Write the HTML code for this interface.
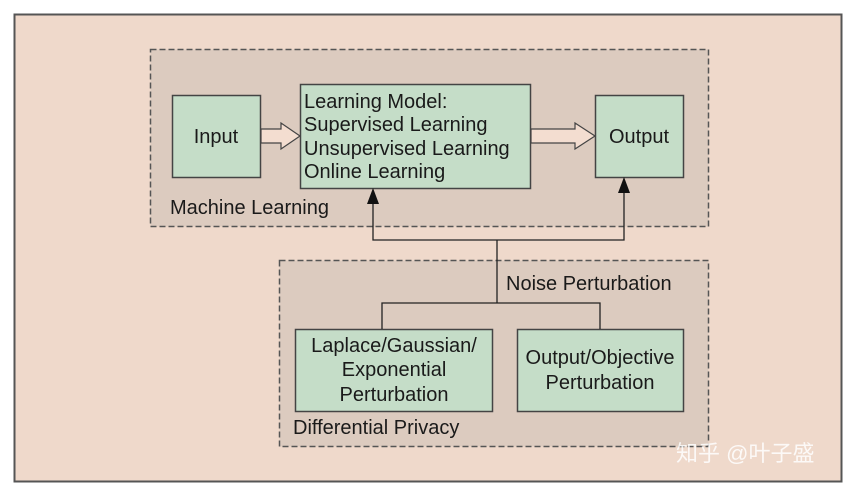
<!DOCTYPE html>
<html><head><meta charset="utf-8"><style>
body{margin:0;width:854px;height:487px;background:#fff;overflow:hidden}
svg text{font-family:"Liberation Sans",sans-serif;font-size:20px;fill:#1a1a1a}
</style></head><body>
<svg width="854" height="487" viewBox="0 0 854 487">
<rect x="14.5" y="14.5" width="827" height="467" fill="#efd9cb" stroke="#555" stroke-width="2"/>
<rect x="150.5" y="49.5" width="558" height="177" fill="#dccbbf" stroke="#555" stroke-width="1.5" stroke-dasharray="6,3"/>
<rect x="279.5" y="260.5" width="429" height="186" fill="#dccbbf" stroke="#555" stroke-width="1.5" stroke-dasharray="6,3"/>
<g fill="#c5ddc8" stroke="#444" stroke-width="1.5">
<rect x="172.5" y="95.5" width="88" height="82"/>
<rect x="300.5" y="84.5" width="230" height="104"/>
<rect x="595.5" y="95.5" width="88" height="82"/>
<rect x="295.5" y="329.5" width="197" height="82"/>
<rect x="517.5" y="329.5" width="166" height="82"/>
</g>
<g fill="#f3ddd0" stroke="#444" stroke-width="1.2">
<path d="M261 129 H281 V123 L300 136 L281 149 V143 H261 Z"/>
<path d="M531 129 H575 V123 L595 136 L575 149 V143 H531 Z"/>
</g>
<g stroke="#222" stroke-width="1.3" fill="none">
<path d="M373 200 V240 H624 V190"/>
<path d="M497 240 V303"/>
<path d="M382 329 V303 H600 V329"/>
</g>
<path d="M373 188 L367 204 H379 Z" fill="#111"/>
<path d="M624 177 L618 193 H630 Z" fill="#111"/>
<text x="216" y="143" text-anchor="middle">Input</text>
<text x="639" y="143" text-anchor="middle">Output</text>
<text x="304" y="108">Learning Model:</text>
<text x="304" y="131">Supervised Learning</text>
<text x="304" y="155">Unsupervised Learning</text>
<text x="304" y="178">Online Learning</text>
<text x="170" y="214">Machine Learning</text>
<text x="506" y="290">Noise Perturbation</text>
<text x="394" y="352" text-anchor="middle">Laplace/Gaussian/</text>
<text x="394" y="376" text-anchor="middle">Exponential</text>
<text x="394" y="401" text-anchor="middle">Perturbation</text>
<text x="600" y="364" text-anchor="middle">Output/Objective</text>
<text x="600" y="389" text-anchor="middle">Perturbation</text>
<text x="293" y="434">Differential Privacy</text>
<text x="676" y="461" style="font-family:'Liberation Sans','Noto Sans CJK SC',sans-serif;font-size:22px;fill:#fff;opacity:.85">知乎 @叶子盛</text>
</svg>
</body></html>
